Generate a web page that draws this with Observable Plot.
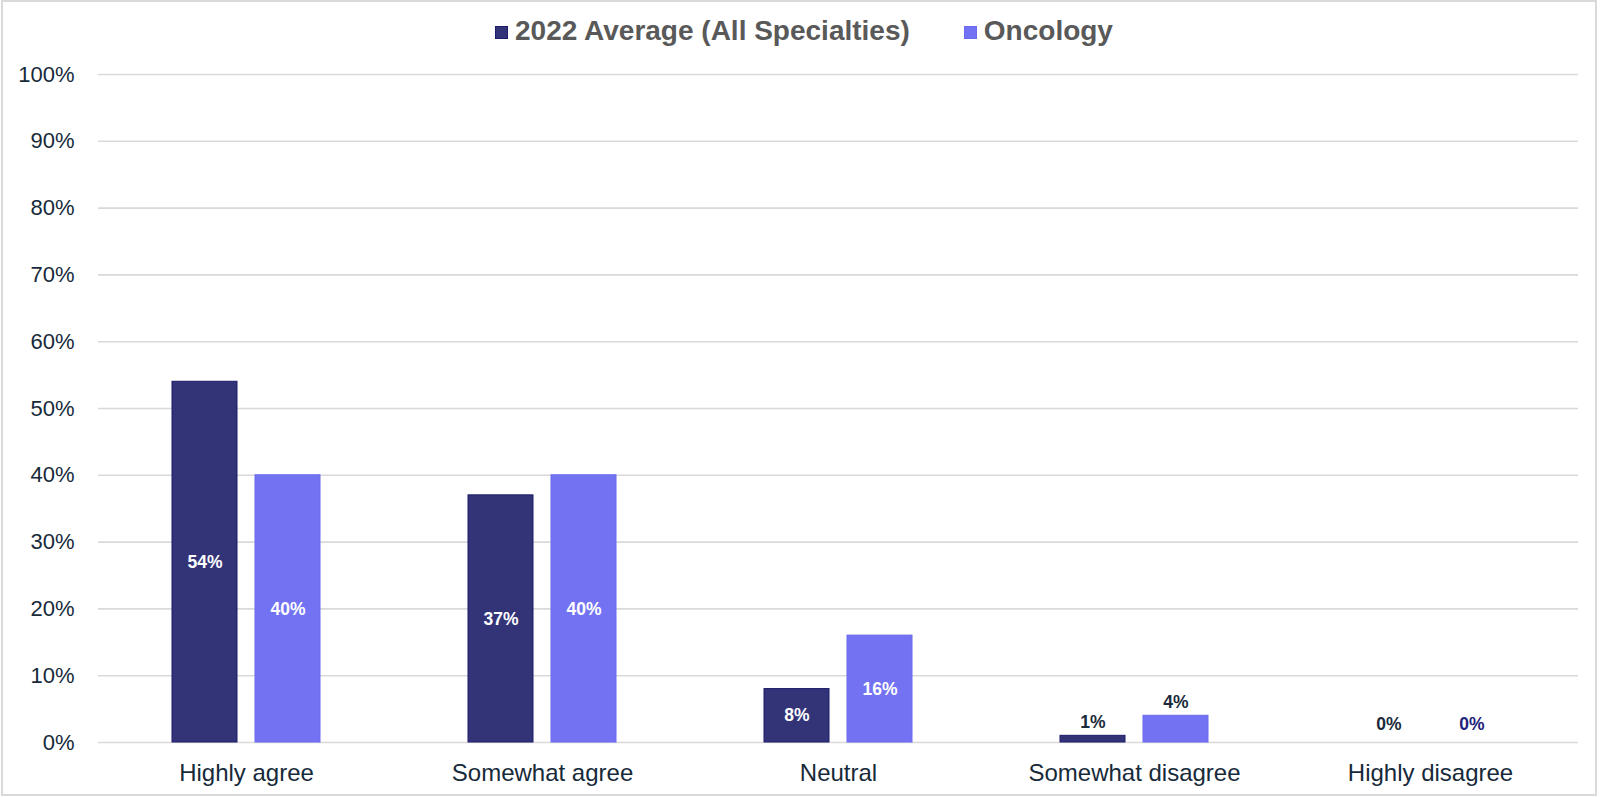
<!DOCTYPE html>
<html>
<head>
<meta charset="utf-8">
<script src="https://cdn.jsdelivr.net/npm/d3@7"></script>
<script src="https://cdn.jsdelivr.net/npm/@observablehq/plot@0.6"></script>
<style>
  html, body { margin: 0; padding: 0; background: #fff; }
  body { width: 1600px; height: 797px; position: relative; overflow: hidden; font-family: "Liberation Sans", Arial, sans-serif; }
  #frame { position: absolute; left: 1px; top: 0; width: 1596px; height: 796px; border: 2px solid #d9d9d9; box-sizing: border-box; pointer-events: none; z-index: 2; }
  #legend { position: absolute; left: 4px; top: 17px; width: 1600px; display: flex; justify-content: center; align-items: center; font-size: 28px; font-weight: bold; color: #595959; line-height: 28px; z-index: 3; }
  .item { display: flex; align-items: center; }
  .sw { width: 13px; height: 13px; box-sizing: border-box; margin-right: 7px; margin-top: 3px; }
  #chart { position: absolute; left: 0; top: 0; }
</style>
</head>
<body>
<div id="frame"></div>
<div id="legend"></div>
<div id="chart"></div>
<script>
const categories = ["Highly agree", "Somewhat agree", "Neutral", "Somewhat disagree", "Highly disagree"];
const seriesNames = ["2022 Average (All Specialties)", "Oncology"];
const avg2022 = [54, 37, 8, 1, 0];
const oncology = [40, 40, 16, 4, 0];
const yTicks = [0, 10, 20, 30, 40, 50, 60, 70, 80, 90, 100];

const fills = ["#333378", "#7272f2"];
const strokes = ["#1c1c6b", "#6a6aee"];

const data = [];
categories.forEach((c, i) => {
  data.push({category: c, series: seriesNames[0], value: avg2022[i], s: 0});
  data.push({category: c, series: seriesNames[1], value: oncology[i], s: 1});
});

// legend
const legend = document.getElementById("legend");
seriesNames.forEach((name, i) => {
  const it = document.createElement("div");
  it.className = "item";
  if (i > 0) it.style.marginLeft = "54px";
  const sw = document.createElement("div");
  sw.className = "sw";
  sw.style.background = fills[i];
  sw.style.border = "1px solid " + strokes[i];
  const t = document.createElement("span");
  t.textContent = name;
  it.appendChild(sw);
  it.appendChild(t);
  legend.appendChild(it);
});

const inside = data.filter(d => d.value >= 8);
const outside = data.filter(d => d.value < 8 && d.value > 0);
const zeros = data.filter(d => d.value === 0);

const chart = Plot.plot({
  width: 1600,
  height: 797,
  marginTop: 74,
  marginBottom: 55,
  marginLeft: 97,
  marginRight: 21,
  style: {fontFamily: "'Liberation Sans', Arial, sans-serif", background: "transparent"},
  fx: {domain: categories, padding: 0, label: null, axis: null},
  x: {domain: seriesNames, paddingInner: 0.214, paddingOuter: 0.87, axis: null},
  y: {domain: [0, 100], axis: null},
  color: {domain: seriesNames, range: fills},
  marks: [
    Plot.gridY(yTicks, {stroke: "#d9d9d9", strokeOpacity: 1, strokeWidth: 1.6}),
    Plot.barY(data, {fx: "category", x: "series", y: "value", fill: d => fills[d.s], stroke: d => strokes[d.s], strokeWidth: 1}),
    Plot.text(inside, {fx: "category", x: "series", y: d => d.value / 2, text: d => d.value + "%", fill: "white", fontWeight: "bold", fontSize: 17.5}),
    Plot.text(outside, {fx: "category", x: "series", y: "value", dy: -13, text: d => d.value + "%", fill: "#1b2a3a", fontWeight: "bold", fontSize: 17.5}),
    Plot.text(zeros, {fx: "category", x: "series", y: "value", dy: -18, text: d => d.value + "%", fill: d => d.s === 1 ? "#22227a" : "#1b2a3a", fontWeight: "bold", fontSize: 17.5}),
    Plot.axisY({ticks: yTicks, tickFormat: d => d + "%", tickSize: 0, tickPadding: 24, fontSize: 22, color: "#172a3a", label: null}),
    Plot.axisFx({anchor: "bottom", tickSize: 0, tickPadding: 21, fontSize: 24, color: "#172a3a", label: null})
  ]
});
document.getElementById("chart").appendChild(chart);
</script>
</body>
</html>
